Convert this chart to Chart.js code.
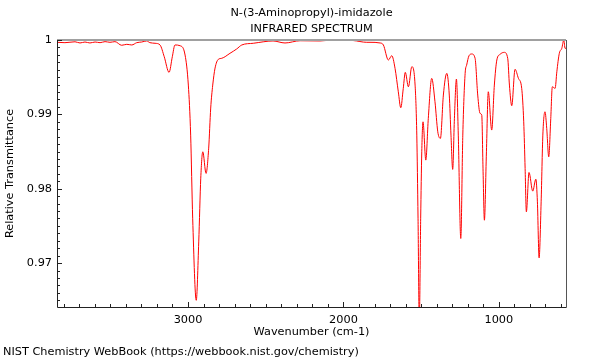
<!DOCTYPE html>
<html>
<head>
<meta charset="utf-8">
<script src="https://cdn.jsdelivr.net/npm/chart.js@4/dist/chart.umd.min.js"></script>
<style>
html,body{margin:0;padding:0;background:#fff;}
#wrap{width:600px;height:360px;position:relative;}
</style>
</head>
<body>
<div id="wrap"><canvas id="c" width="600" height="360"></canvas></div>
<script>
const titleLines = ["N-(3-Aminopropyl)-imidazole", "INFRARED SPECTRUM"];
const xTitle = "Wavenumber (cm-1)";
const yTitle = "Relative Transmittance";
const footer = "NIST Chemistry WebBook (https://webbook.nist.gov/chemistry)";
const xTickValues = [1000, 2000, 3000];
const yTickValues = [0.97, 0.98, 0.99, 1];
const xRange = [568, 3843];
const yRange = [0.9641, 1];

const wavenumbers = [3843,3792,3727,3695,3663,3631,3598,3566,3534,3502,3470,3427,3394,3362,3330,3298,3266,3245,3212,3180,3153,3122,3101,3084,3051,3019,2998,2983,2970,2947,2931,2918,2905,2884,2867,2854,2841,2826,2805,2783,2730,2687,2654,2580,2453,2376,2279,2151,2067,1938,1850,1829,1764,1743,1711,1689,1668,1647,1631,1615,1602,1582,1560,1539,1528,1520,1512,1503,1496,1488,1470,1454,1432,1411,1393,1376,1357,1335,1319,1308,1297,1286,1273,1261,1245,1232,1217,1207,1192,1174,1153,1136,1121,1110,1102,1093,1080,1068,1046,1029,1013,992,965,943,932,917,896,874,853,840,831,823,806,782,762,752,741,728,717,703,692,679,666,656,638,627,611,595,582,574,568];
const transmittance = [0.99969,0.99964,0.99976,0.99960,0.99973,0.99960,0.99973,0.99964,0.99978,0.99969,0.99978,0.99929,0.99942,0.99933,0.99964,0.99973,0.99987,0.99964,0.99956,0.99933,0.99775,0.99565,0.99775,0.99933,0.99923,0.99798,0.99394,0.98721,0.97604,0.96500,0.97285,0.98142,0.98497,0.98206,0.98546,0.99085,0.99394,0.99623,0.99740,0.99754,0.99821,0.99879,0.99933,0.99956,0.99987,0.99960,0.99990,0.99987,1.0000,0.99993,0.99969,0.99969,0.99960,0.99933,0.99731,0.99789,0.99619,0.99304,0.99089,0.99350,0.99565,0.99371,0.99641,0.99394,0.98721,0.97604,0.9620,0.97604,0.98497,0.98900,0.98385,0.98946,0.99484,0.99170,0.98766,0.98677,0.99260,0.99552,0.99260,0.98721,0.98260,0.98946,0.99475,0.98721,0.97331,0.98721,0.99550,0.99664,0.99789,0.99812,0.99754,0.99260,0.99013,0.98990,0.98277,0.97577,0.98497,0.99304,0.98789,0.99394,0.99731,0.99808,0.99834,0.99754,0.99394,0.99116,0.99606,0.99484,0.99350,0.98900,0.98273,0.97689,0.98219,0.97968,0.98129,0.97824,0.97070,0.97824,0.98721,0.99035,0.98811,0.98429,0.98946,0.99371,0.99350,0.99573,0.99821,0.99888,1.0000,0.99888,0.9989];

const FONT = "DejaVu Sans";
const FSIZE = 11.3;

const decor = {
  id: 'decor',
  afterDraw(chart) {
    const ctx = chart.ctx;
    const ca = chart.chartArea;
    const xs = chart.scales.x, ys = chart.scales.y;
    ctx.save();
    ctx.strokeStyle = '#a0a0a0';
    ctx.lineWidth = 2;
    ctx.beginPath(); ctx.moveTo(ca.left, ca.top); ctx.lineTo(ca.right, ca.top); ctx.stroke();
    ctx.strokeStyle = '#222';
    ctx.lineWidth = 1;
    ctx.beginPath();
    ctx.moveTo(Math.round(ca.left)+0.5, ca.top); ctx.lineTo(Math.round(ca.left)+0.5, Math.round(ca.bottom)+0.5);
    ctx.lineTo(Math.round(ca.right)+0.5, Math.round(ca.bottom)+0.5);
    ctx.stroke();
    ctx.strokeStyle = '#555';
    ctx.beginPath();
    ctx.moveTo(Math.round(ca.right)+0.5, ca.top); ctx.lineTo(Math.round(ca.right)+0.5, Math.round(ca.bottom)+0.5);
    ctx.stroke();
    ctx.strokeStyle = '#222';
    for (let v = 600; v <= 3800; v += 100) {
      const px = Math.round(xs.getPixelForValue(v)) + 0.5;
      const major = v % 1000 === 0;
      ctx.beginPath();
      ctx.moveTo(px, ca.bottom);
      ctx.lineTo(px, ca.bottom - (major ? 5 : 3));
      ctx.stroke();
    }
    for (let k = 965; k <= 1000; k++) {
      const v = k / 1000;
      const py = Math.round(ys.getPixelForValue(v)) + 0.5;
      const major = k % 10 === 0;
      ctx.beginPath();
      ctx.moveTo(ca.left, py);
      ctx.lineTo(ca.left + (major ? 5 : 3), py);
      ctx.stroke();
    }
    ctx.fillStyle = '#000';
    ctx.font = FSIZE + 'px "' + FONT + '"';
    ctx.textAlign = 'center';
    ctx.textBaseline = 'middle';
    const cx = (ca.left + ca.right) / 2;
    ctx.fillText(titleLines[0], cx, 13);
    ctx.fillText(titleLines[1], cx, 29);
    ctx.fillText(xTitle, cx, 332);
    ctx.save();
    ctx.translate(10, (ca.top + ca.bottom) / 2);
    ctx.rotate(-Math.PI / 2);
    ctx.fillText(yTitle, 0, 0);
    ctx.restore();
    ctx.textAlign = 'left';
    ctx.fillText(footer, 3, 352);
    ctx.restore();
  }
};

new Chart(document.getElementById('c'), {
  type: 'line',
  data: {
    datasets: [{
      data: wavenumbers.map((w, i) => ({x: w, y: transmittance[i]})),
      borderColor: 'rgb(255,0,0)',
      borderWidth: 1,
      pointRadius: 0,
      fill: false,
      cubicInterpolationMode: 'monotone'
    }]
  },
  options: {
    responsive: false,
    animation: false,
    events: [],
    layout: {padding: {left: 0, right: 34, top: 40, bottom: 0}},
    plugins: {legend: {display: false}, title: {display: false}, tooltip: {enabled: false}},
    scales: {
      x: {
        type: 'linear', reverse: true, min: xRange[0], max: xRange[1],
        afterBuildTicks: s => { s.ticks = xTickValues.map(v => ({value: v})); },
        afterFit: s => { s.height = 53; },
        grid: {display: false, drawTicks: false},
        border: {display: false},
        ticks: {padding: 6, color: '#000', font: {family: FONT, size: FSIZE}, maxRotation: 0,
          callback: v => String(v)}
      },
      y: {
        type: 'linear', min: yRange[0], max: yRange[1],
        afterBuildTicks: s => { s.ticks = yTickValues.map(v => ({value: v})); },
        afterFit: s => { s.width = 57; },
        grid: {display: false, drawTicks: false},
        border: {display: false},
        ticks: {padding: 5, color: '#000', font: {family: FONT, size: FSIZE},
          callback: v => (v === 1 ? '1' : v.toFixed(2))}
      }
    }
  },
  plugins: [decor]
});
</script>
</body>
</html>
